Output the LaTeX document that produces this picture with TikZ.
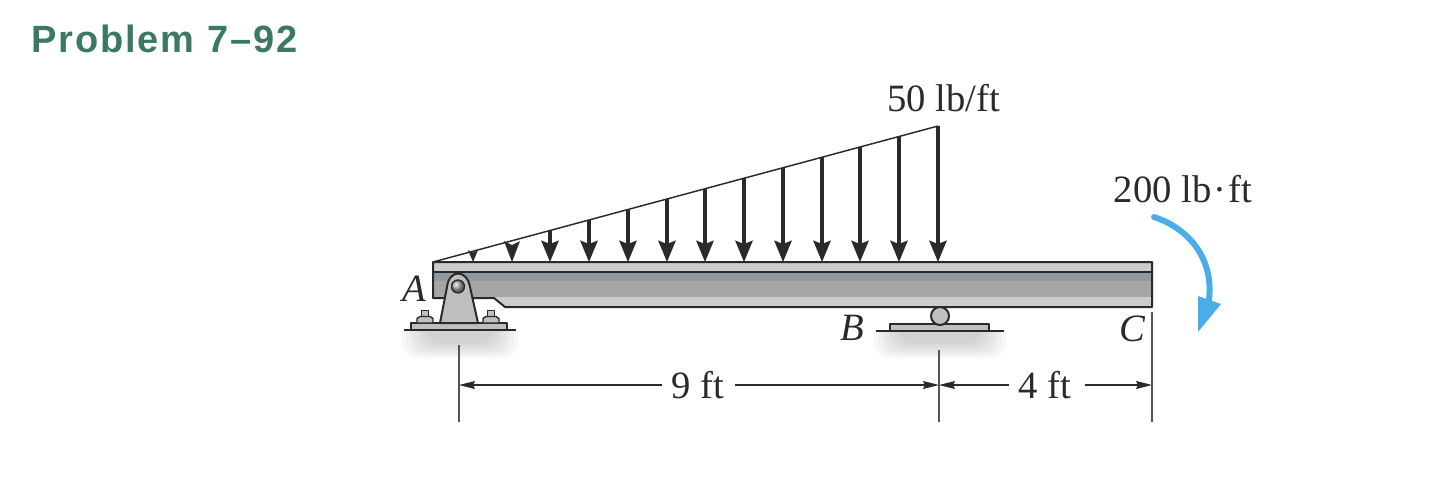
\documentclass[tikz,border=0pt]{standalone}
\usepackage{fontspec}
\setmainfont{Liberation Serif}
\newfontfamily\titlefont[LetterSpace=5]{Liberation Sans}
\usetikzlibrary{arrows.meta}
\definecolor{ink}{HTML}{2A2A2A}
\definecolor{flange}{HTML}{C9CDD0}
\definecolor{webdark}{HTML}{8E9A9F}
\definecolor{webmid}{HTML}{A6A6A6}
\definecolor{steel}{HTML}{BDBFC1}
\definecolor{moment}{HTML}{49AEE8}
\definecolor{heading}{HTML}{3B7A61}
\tikzset{
  lbl/.style={inner sep=0pt,text=ink,font=\fontsize{29}{31}\selectfont},
  varlbl/.style={lbl,font=\fontsize{29}{31}\selectfont\itshape},
  outline/.style={draw=ink,line width=1.5pt,line join=round},
  thinoutline/.style={draw=ink,line width=1.1pt,line join=round},
  loadarrow/.style={draw=ink,line width=2.3pt,-{Stealth[length=16pt,width=13pt,inset=2.5pt]}},
  dimarrow/.style={draw=ink,line width=.8pt,-{Stealth[length=12pt,width=6pt,inset=1.5pt]}},
  dimline/.style={draw=ink!80,line width=.8pt},
  groundlayer/.style={black,opacity=.028},
}
\begin{document}
\begin{tikzpicture}[x=.75pt,y=-.75pt]
\useasboundingbox (0,0) rectangle (1448,476);
% title
\node[anchor=base west,inner sep=0pt,text=heading,font=\titlefont\bfseries\fontsize{28.5}{30}\selectfont] (title) at (31,52) {Problem 7–92};
% ground shading
\foreach \i in {0,...,6}{
  \fill[groundlayer,rounded corners=12pt] ({402+4*\i},318) rectangle ({518-4*\i},{358-2.5*\i});
  \fill[groundlayer,rounded corners=12pt] ({874+4*\i},318) rectangle ({1006-4*\i},{358-2.5*\i});
}
\fill[white] (395,300) rectangle (411,330);
\fill[white] (507,308) rectangle (525,330);
\fill[white] (411,308) rectangle (507,323);
\fill[white] (865,312) rectangle (890,331);
\fill[white] (989,312) rectangle (1015,331);
\fill[white] (890,312) rectangle (989,324);
% beam
\fill[flange] (433,262) rectangle (1152,272);
\fill[webdark] (433,272) rectangle (1152,281);
\fill[webmid] (433,281) -- (1152,281) -- (1152,297) -- (433,298) -- cycle;
\fill[flange] (494,297) -- (1152,297) -- (1152,307) -- (505,307) -- cycle;
\draw[outline] (433,262) -- (1152,262) -- (1152,307) -- (505,307) -- (494,298) -- (433,298) -- cycle;
\draw[outline] (433,272) -- (1152,272);
% load
\coordinate (loadstart) at (433,262);
\coordinate (loadend) at (938,126);
\draw[draw=ink,line width=1.1pt] (loadstart) -- (loadend);
\foreach \x/\ytop in {473/251,512/241,550/230,589/220,628/209,667/199,705/189,744/178,783/168,822/157,860/147,899/136,938/126}{
  \ifnum\x<500
    \fill[ink] (\x-5,250) -- (\x,252.5) -- (\x+5,250) -- (\x,262) -- cycle;
  \else
    \ifnum\x<530
      \fill[ink] (\x-8,241) -- (\x,245) -- (\x+8,241) -- (\x,262) -- cycle;
    \else
      \draw[loadarrow] (\x,\ytop) -- (\x,262);
    \fi
  \fi
}
% pin support A
\draw[outline,fill=steel] (411,323) rectangle (507,330);
\foreach \x in {425,491}{
  \draw[thinoutline,fill=steel] (\x-3.5,310.5) rectangle (\x+3.5,317);
  \draw[thinoutline,fill=steel] (\x-8,323) -- (\x-8,318.5) -- (\x-5,316.5) -- (\x+5,316.5) -- (\x+8,318.5) -- (\x+8,323) -- cycle;
}
\draw[outline,fill=steel] (440,323) -- (447,287) .. controls (449,269) and (467,269) .. (470,287) -- (478,323) -- cycle;
\shade[ball color=gray!70] (458,286.5) circle (6.5);
\draw[draw=ink,line width=1pt] (458,286.5) circle (6.5);
\coordinate (baseAl) at (404,330);
\coordinate (baseAr) at (516,330);
\draw[outline] (baseAl) -- (baseAr);
% roller support B
\draw[outline,fill=steel] (890,324) rectangle (989,331);
\draw[outline,fill=steel] (940,316) circle (9);
\coordinate (baseBl) at (876,331);
\coordinate (baseBr) at (1004,331);
\draw[outline] (baseBl) -- (baseBr);
% moment
\draw[moment,line width=4.5pt,line cap=round] (1154,217) .. controls (1188,228) and (1214,258) .. (1209,300);
\fill[moment] (1198,296) -- (1221,304) -- (1198,332) -- cycle;
% dimensions
\coordinate (e1t) at (459,345); \coordinate (e1b) at (459,422);
\coordinate (e2t) at (939,350); \coordinate (e2b) at (939,422);
\coordinate (e3t) at (1152,312); \coordinate (e3b) at (1152,422);
\draw[dimline] (e1t) -- (e1b);
\draw[dimline] (e2t) -- (e2b);
\draw[dimline] (e3t) -- (e3b);
\coordinate (d1) at (459,385); \coordinate (d2) at (939,385); \coordinate (d3) at (1152,385);
\node[lbl] (nine) at (698,385) {9 ft};
\node[lbl] (four) at (1045,385) {4 ft};
\draw[dimarrow] (662,385) -- (d1);
\draw[dimarrow] (735,385) -- (d2);
\draw[dimarrow] (1009,385) -- (d2);
\draw[dimarrow] (1085,385) -- (d3);
% labels
\node[lbl] (w) at (943.5,98.5) {50 lb/ft};
\node[lbl] (m) at (1183,189) {200 lb\kern.05em·\kern.05em ft};
\node[varlbl] (A) at (414,289) {A};
\node[varlbl] (B) at (852,328) {B};
\node[varlbl] (C) at (1132,329) {C};
\end{tikzpicture}
\end{document}
